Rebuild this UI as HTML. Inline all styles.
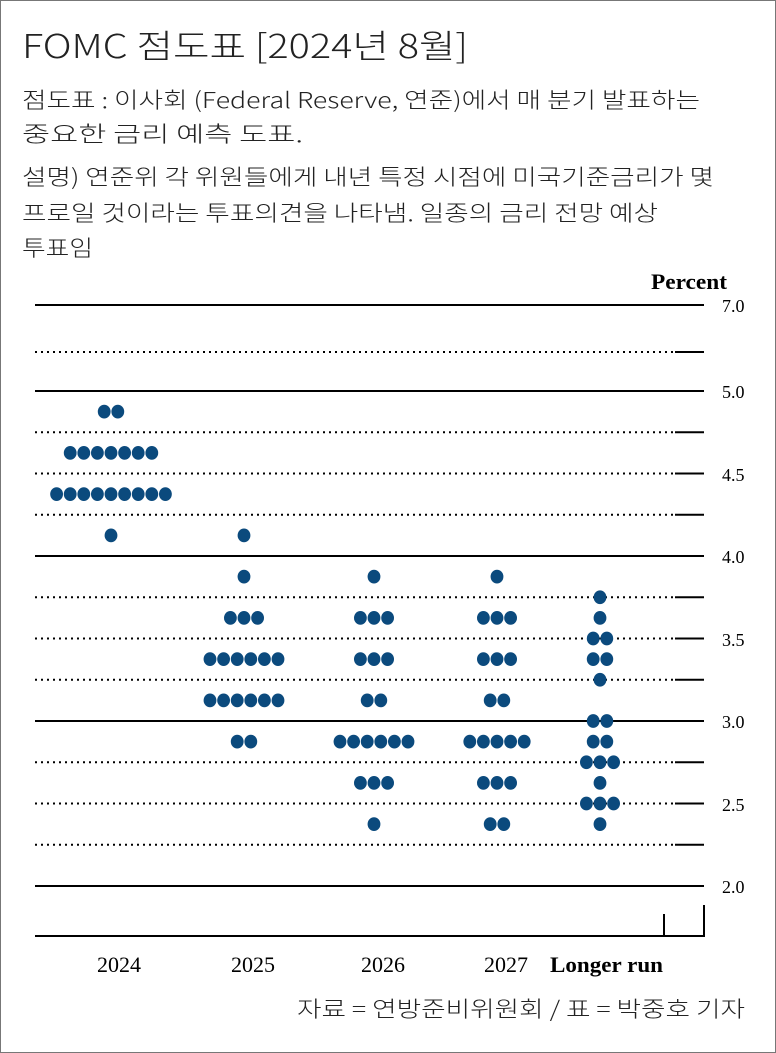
<!DOCTYPE html>
<html><head><meta charset="utf-8"><style>
body{margin:0;background:#fff}
svg{display:block}
.k{font-family:"Noto Sans CJK KR","Liberation Sans",sans-serif;fill:#222;font-weight:300}
.s{font-family:"Liberation Serif",serif;fill:#000}
</style></head><body>
<svg width="776" height="1053" viewBox="0 0 776 1053">
<defs><ellipse id="e" cx="0" cy="0" rx="6.4" ry="6.9" fill="#0b4a7d"/></defs>
<rect x="0.5" y="0.5" width="775" height="1052" fill="#fff" stroke="#777"/>
<text class="k" x="22" y="58" font-size="33" textLength="446" lengthAdjust="spacingAndGlyphs">FOMC 점도표 [2024년 8월]</text>
<g class="k" font-size="22">
<text x="22" y="108" textLength="678" lengthAdjust="spacingAndGlyphs">점도표 : 이사회 (Federal Reserve, 연준)에서 매 분기 발표하는</text>
<text x="22" y="142" textLength="281" lengthAdjust="spacingAndGlyphs">중요한 금리 예측 도표.</text>
<text x="22" y="185" textLength="692" lengthAdjust="spacingAndGlyphs">설명) 연준위 각 위원들에게 내년 특정 시점에 미국기준금리가 몇</text>
<text x="22" y="221" textLength="636" lengthAdjust="spacingAndGlyphs">프로일 것이라는 투표의견을 나타냄. 일종의 금리 전망 예상</text>
<text x="22" y="256" textLength="71" lengthAdjust="spacingAndGlyphs">투표임</text>
</g>
<text class="s" x="651" y="289" font-size="22" font-weight="bold" textLength="76" lengthAdjust="spacingAndGlyphs">Percent</text>
<g stroke="#000">
<line x1="35" x2="704" y1="305" y2="305" stroke-width="2"/>
<line x1="35" x2="704" y1="391" y2="391" stroke-width="2"/>
<line x1="35" x2="704" y1="556" y2="556" stroke-width="2"/>
<line x1="35" x2="704" y1="721" y2="721" stroke-width="2"/>
<line x1="35" x2="704" y1="886" y2="886" stroke-width="2"/>
<g stroke-width="2" stroke-dasharray="2 4">
<line x1="35" x2="675" y1="352" y2="352"/>
<line x1="35" x2="675" y1="432.25" y2="432.25"/>
<line x1="35" x2="675" y1="473.5" y2="473.5"/>
<line x1="35" x2="675" y1="514.75" y2="514.75"/>
<line x1="35" x2="675" y1="597.25" y2="597.25"/>
<line x1="35" x2="675" y1="638.5" y2="638.5"/>
<line x1="35" x2="675" y1="679.75" y2="679.75"/>
<line x1="35" x2="675" y1="762.25" y2="762.25"/>
<line x1="35" x2="675" y1="803.5" y2="803.5"/>
<line x1="35" x2="675" y1="844.75" y2="844.75"/>
</g>
<g stroke-width="2">
<line x1="675" x2="704" y1="352" y2="352"/>
<line x1="675" x2="704" y1="432.25" y2="432.25"/>
<line x1="675" x2="704" y1="473.5" y2="473.5"/>
<line x1="675" x2="704" y1="514.75" y2="514.75"/>
<line x1="675" x2="704" y1="597.25" y2="597.25"/>
<line x1="675" x2="704" y1="638.5" y2="638.5"/>
<line x1="675" x2="704" y1="679.75" y2="679.75"/>
<line x1="675" x2="704" y1="762.25" y2="762.25"/>
<line x1="675" x2="704" y1="803.5" y2="803.5"/>
<line x1="675" x2="704" y1="844.75" y2="844.75"/>
</g>
<line x1="35" x2="705" y1="936" y2="936" stroke-width="2"/>
<line x1="664" x2="664" y1="914" y2="936" stroke-width="2"/>
<line x1="704" x2="704" y1="905" y2="936" stroke-width="2"/>
</g>
<g class="s" font-size="18">
<text x="722" y="312">7.0</text>
<text x="722" y="398">5.0</text>
<text x="722" y="481">4.5</text>
<text x="722" y="563">4.0</text>
<text x="722" y="646">3.5</text>
<text x="722" y="728">3.0</text>
<text x="722" y="811">2.5</text>
<text x="722" y="893">2.0</text>
</g>
<g class="s" font-size="22">
<text x="97" y="972">2024</text>
<text x="231" y="972">2025</text>
<text x="361" y="972">2026</text>
<text x="484" y="972">2027</text>
<text x="550" y="972" font-weight="bold" textLength="113" lengthAdjust="spacingAndGlyphs">Longer run</text>
</g>
<text class="k" x="745" y="1017" font-size="22" text-anchor="end" textLength="448" lengthAdjust="spacingAndGlyphs">자료 = 연방준비위원회 / 표 = 박중호 기자</text>

<!-- 2024 -->
<g transform="translate(111,411.6)"><use href="#e" x="-6.8"/><use href="#e" x="6.8"/></g>
<g transform="translate(111,452.9)"><use href="#e" x="-40.8"/><use href="#e" x="-27.2"/><use href="#e" x="-13.6"/><use href="#e" x="0"/><use href="#e" x="13.6"/><use href="#e" x="27.2"/><use href="#e" x="40.8"/></g>
<g transform="translate(111,494.1)"><use href="#e" x="-54.4"/><use href="#e" x="-40.8"/><use href="#e" x="-27.2"/><use href="#e" x="-13.6"/><use href="#e" x="0"/><use href="#e" x="13.6"/><use href="#e" x="27.2"/><use href="#e" x="40.8"/><use href="#e" x="54.4"/></g>
<g transform="translate(111,535.4)"><use href="#e"/></g>
<!-- 2025 -->
<g transform="translate(244,535.4)"><use href="#e"/></g>
<g transform="translate(244,576.6)"><use href="#e"/></g>
<g transform="translate(244,617.9)"><use href="#e" x="-13.6"/><use href="#e" x="0"/><use href="#e" x="13.6"/></g>
<g transform="translate(244,659.1)"><use href="#e" x="-34"/><use href="#e" x="-20.4"/><use href="#e" x="-6.8"/><use href="#e" x="6.8"/><use href="#e" x="20.4"/><use href="#e" x="34"/></g>
<g transform="translate(244,700.4)"><use href="#e" x="-34"/><use href="#e" x="-20.4"/><use href="#e" x="-6.8"/><use href="#e" x="6.8"/><use href="#e" x="20.4"/><use href="#e" x="34"/></g>
<g transform="translate(244,741.6)"><use href="#e" x="-6.8"/><use href="#e" x="6.8"/></g>
<!-- 2026 -->
<g transform="translate(374,576.6)"><use href="#e"/></g>
<g transform="translate(374,617.9)"><use href="#e" x="-13.6"/><use href="#e" x="0"/><use href="#e" x="13.6"/></g>
<g transform="translate(374,659.1)"><use href="#e" x="-13.6"/><use href="#e" x="0"/><use href="#e" x="13.6"/></g>
<g transform="translate(374,700.4)"><use href="#e" x="-6.8"/><use href="#e" x="6.8"/></g>
<g transform="translate(374,741.6)"><use href="#e" x="-34"/><use href="#e" x="-20.4"/><use href="#e" x="-6.8"/><use href="#e" x="6.8"/><use href="#e" x="20.4"/><use href="#e" x="34"/></g>
<g transform="translate(374,782.9)"><use href="#e" x="-13.6"/><use href="#e" x="0"/><use href="#e" x="13.6"/></g>
<g transform="translate(374,824.1)"><use href="#e"/></g>
<!-- 2027 -->
<g transform="translate(497,576.6)"><use href="#e"/></g>
<g transform="translate(497,617.9)"><use href="#e" x="-13.6"/><use href="#e" x="0"/><use href="#e" x="13.6"/></g>
<g transform="translate(497,659.1)"><use href="#e" x="-13.6"/><use href="#e" x="0"/><use href="#e" x="13.6"/></g>
<g transform="translate(497,700.4)"><use href="#e" x="-6.8"/><use href="#e" x="6.8"/></g>
<g transform="translate(497,741.6)"><use href="#e" x="-27.2"/><use href="#e" x="-13.6"/><use href="#e" x="0"/><use href="#e" x="13.6"/><use href="#e" x="27.2"/></g>
<g transform="translate(497,782.9)"><use href="#e" x="-13.6"/><use href="#e" x="0"/><use href="#e" x="13.6"/></g>
<g transform="translate(497,824.1)"><use href="#e" x="-6.8"/><use href="#e" x="6.8"/></g>
<!-- Longer run -->
<g transform="translate(600,597.25)"><use href="#e"/></g>
<g transform="translate(600,617.9)"><use href="#e"/></g>
<g transform="translate(600,638.5)"><use href="#e" x="-6.8"/><use href="#e" x="6.8"/></g>
<g transform="translate(600,659.1)"><use href="#e" x="-6.8"/><use href="#e" x="6.8"/></g>
<g transform="translate(600,679.75)"><use href="#e"/></g>
<g transform="translate(600,721)"><use href="#e" x="-6.8"/><use href="#e" x="6.8"/></g>
<g transform="translate(600,741.6)"><use href="#e" x="-6.8"/><use href="#e" x="6.8"/></g>
<g transform="translate(600,762.25)"><use href="#e" x="-13.6"/><use href="#e" x="0"/><use href="#e" x="13.6"/></g>
<g transform="translate(600,782.9)"><use href="#e"/></g>
<g transform="translate(600,803.5)"><use href="#e" x="-13.6"/><use href="#e" x="0"/><use href="#e" x="13.6"/></g>
<g transform="translate(600,824.1)"><use href="#e"/></g>
</svg>
</body></html>
